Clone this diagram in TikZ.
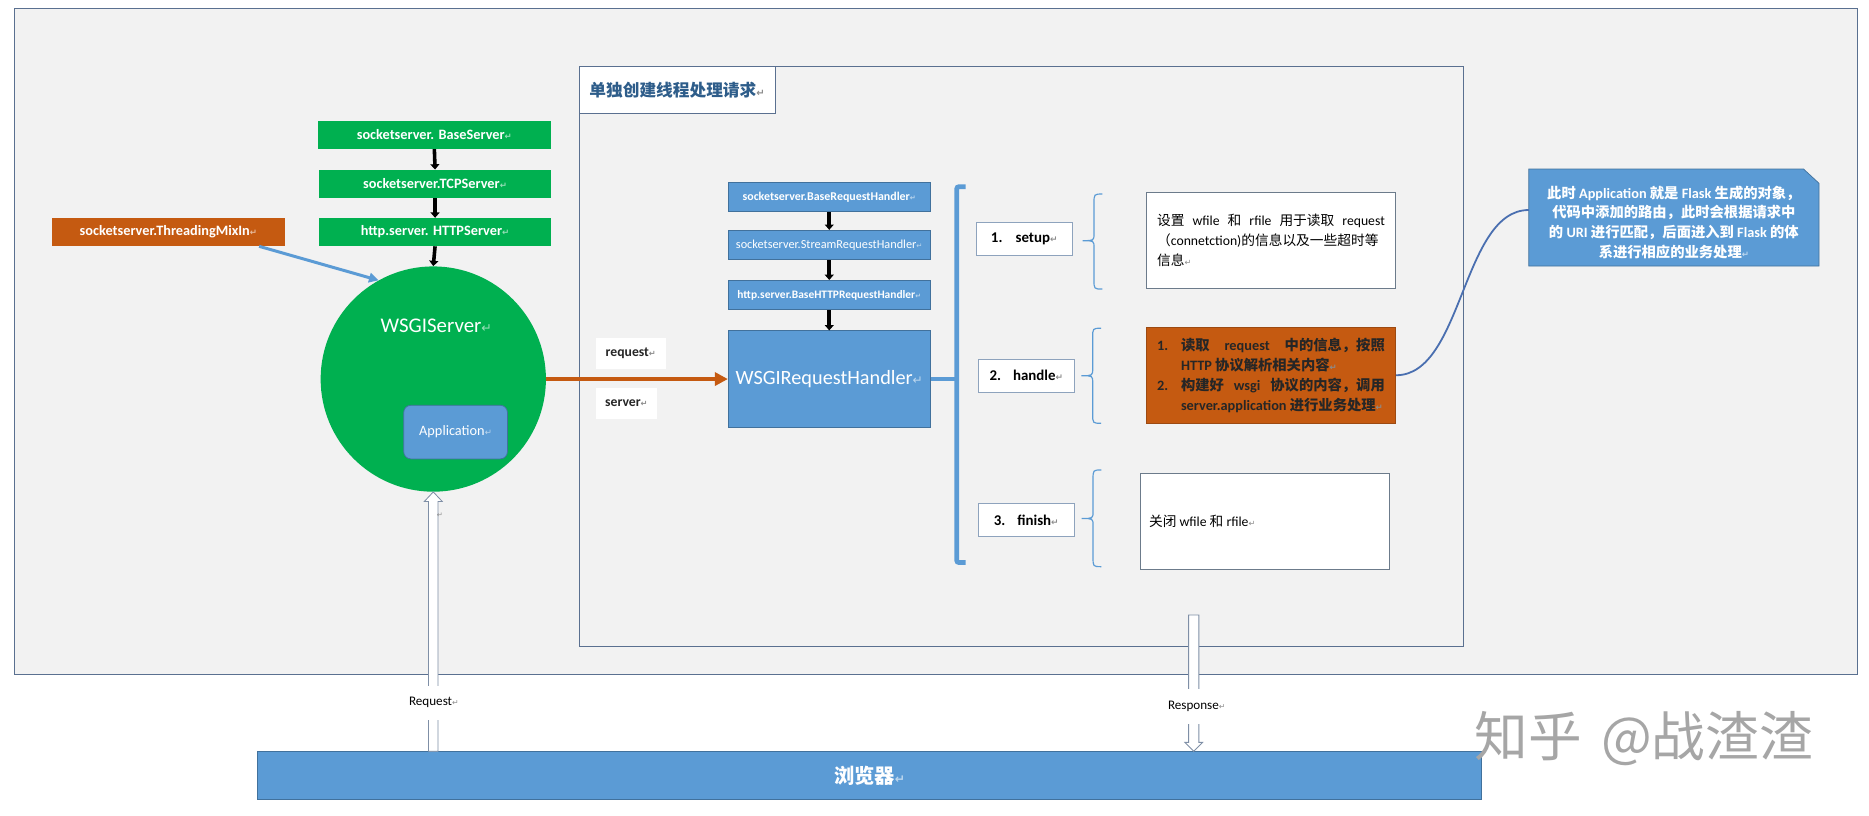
\documentclass[tikz,border=0pt]{standalone}
\usepackage{fontspec}
\usepackage{graphicx}
\setmainfont{Carlito}
\newfontfamily\cjk{Noto Sans CJK SC}
\newfontfamily\dv{DejaVu Sans}
\usetikzlibrary{shapes.geometric,arrows.meta,calc}
\definecolor{bg}{HTML}{F2F2F2}
\definecolor{frame}{HTML}{5A7090}
\definecolor{grn}{HTML}{00B050}
\definecolor{org}{HTML}{C55A11}
\definecolor{blu}{HTML}{5B9BD5}
\definecolor{bluedge}{HTML}{41719C}
\definecolor{ttl}{HTML}{2E5D8A}
\definecolor{stepedge}{HTML}{8EA3BD}
\definecolor{descedge}{HTML}{6C7B8B}
\definecolor{orgedge}{HTML}{9C4A12}
\definecolor{crvc}{HTML}{4A6FB0}
\definecolor{holl}{HTML}{7F8FA6}
\newcommand\zh[1]{{\cjk #1}}
\newcommand\rmk[1][black!45]{{\dv\color{#1}\scalebox{0.6}{↵}}}
\newcommand\cbrace[4]{\draw[brc] (#1+7,#2) .. controls (#1,#2) .. (#1,#2+8) -- (#1,#3-6) .. controls (#1,#3) .. (#1-9.5,#3) .. controls (#1,#3) .. (#1,#3+6) -- (#1,#4-8) .. controls (#1,#4) .. (#1+7,#4);}
\tikzset{
  gbox/.style={fill=grn, text=white, font=\bfseries\fontsize{12}{14}\selectfont, minimum width=195, minimum height=23.5, inner sep=0},
  obox/.style={gbox, fill=org},
  hbox/.style={fill=blu, draw=bluedge, line width=0.6, text=white, minimum width=169.5, inner sep=0},
  blk/.style={black, line width=3, -{Triangle[length=4.5,width=7.5]}},
  sbox/.style={fill=white, draw=stepedge, line width=0.8, font=\bfseries\fontsize{12.5}{14}\selectfont, minimum width=80.6, minimum height=27.7, inner sep=0},
  brc/.style={blu, line width=1},
  dbox/.style={draw=descedge, fill=white, line width=0.8, minimum width=209.2, minimum height=80.6, inner sep=0},
  lbl/.style={fill=white, inner sep=0, font=\bfseries\fontsize{11.5}{13}\selectfont, text=black!85},
  hollow/.style={draw=holl, fill=white, line width=0.7},
  plain/.style={fill=white, inner xsep=2, inner ysep=0, font=\fontsize{11}{13}\selectfont}
}
\begin{document}
\begin{tikzpicture}[x=1pt,y=-1pt]
\useasboundingbox (0,0) rectangle (1568,684);
\fill[white] (0,0) rectangle (1568,684);
% containers
\node[draw=frame, fill=bg, line width=0.8, minimum width=1546, minimum height=559, inner sep=0] (outer) at (785,286.5) {};
\node[draw=frame, fill=bg, line width=0.8, minimum width=741.8, minimum height=486.6, inner sep=0] (inner) at (856.7,298.9) {};
\node[draw=frame, fill=white, line width=0.8, minimum width=164.5, minimum height=39.7, inner sep=0, anchor=north west, text=ttl, font=\cjk\bfseries\fontsize{14}{16}\selectfont] (title) at (inner.north west) {单独创建线程处理请求\rmk};
% server chain
\node[gbox] (bs) at (364.4,113.1) {socketserver. BaseServer\rmk[white!60!grn]};
\node[gbox] (tcp) at (365,154.2) {socketserver.TCPServer\rmk[white!60!grn]};
\node[gbox] (hs) at (365,194.7) {http.server. HTTPServer\rmk[white!60!grn]};
\node[obox] (mix) at (141.3,194.7) {socketserver.ThreadingMixIn\rmk[white!60!org]};
\node[ellipse, fill=grn, minimum width=189, minimum height=189, inner sep=0] (wsgi) at (363.5,318) {};
\node[text=white, inner sep=0, font=\fontsize{17.5}{20}\selectfont] (wsgit) at (366,273) {WSGIServer\rmk[white!60!grn]};
\node[fill=blu, draw=bluedge, line width=0.6, rounded corners=6, minimum width=87, minimum height=45, inner sep=0, text=white, font=\fontsize{12}{14}\selectfont] (app) at (382.2,362.5) {Application\rmk[white!60!blu]};
\draw[blk] (bs.south) -- (tcp.north);
\draw[blk] (tcp.south) -- (hs.north);
\draw[blk] (hs.south) -- (wsgi.north);
\draw[blu, line width=2.5, -{Triangle[length=8,width=8]}] ([xshift=-21.6pt]mix.south east) -- (wsgi.119);
% handler chain
\node[hbox, minimum height=24.6, font=\bfseries\fontsize{10}{12}\selectfont] (brh) at (695.7,165.3) {socketserver.BaseRequestHandler\rmk[white!60!blu]};
\node[hbox, minimum height=24.7, font=\fontsize{10.3}{12}\selectfont] (srh) at (695.7,205.5) {socketserver.StreamRequestHandler\rmk[white!60!blu]};
\node[hbox, minimum height=24.6, font=\bfseries\fontsize{9.6}{11}\selectfont] (bhrh) at (695.7,247.5) {http.server.BaseHTTPRequestHandler\rmk[white!60!blu]};
\node[hbox, minimum height=81, font=\fontsize{17}{20}\selectfont] (wrh) at (695.7,318) {WSGIRequestHandler\rmk[white!60!blu]};
\draw[blk] (brh.south) -- (srh.north);
\draw[blk] (srh.south) -- (bhrh.north);
\draw[blk] (bhrh.south) -- (wrh.north);
\draw[org, line width=4, -{Triangle[length=11,width=11]}] (wsgi.east) -- (wrh.west);
\node[lbl, minimum width=59, minimum height=25.7] (rq) at (529.2,296.5) {request\rmk};
\node[lbl, minimum width=51, minimum height=26] (sv) at (525.5,338.5) {server\rmk};
% bracket
\coordinate (brk) at (802.6,316);
\draw[blu, line width=4, rounded corners=2] (810,156.6) -- (802.6,156.6) -- (802.6,472) -- (810,472);
\draw[blu, line width=4] (wrh.east) -- (wrh.east -| brk);
% steps
\node[sbox] (setup) at (859.3,200.3) {1.\hspace{11pt}setup\rmk};
\node[sbox] (handle) at (861,315.3) {2.\hspace{10pt}handle\rmk};
\node[sbox] (finish) at (861,436.5) {3.\hspace{10pt}finish\rmk};
\cbrace{917.8}{162.8}{201.9}{242.5}
\cbrace{916.7}{275.4}{315.2}{355.1}
\cbrace{917}{394.3}{435}{475.4}
% descriptions
\node[dbox] (sd) at (1066.3,201.6) {\parbox{191pt}{\fontsize{11.5}{16.4}\selectfont
\makebox[191pt][s]{\zh{设置} wfile \zh{和} rfile \zh{用于读取} request}\\
\zh{（}connetction)\zh{的信息以及一些超时等}\\
\zh{信息}\rmk}};
\node[dbox, fill=org, draw=orgedge] (hd) at (1066.3,314.8) {\parbox{191pt}{\bfseries\fontsize{12}{16.9}\selectfont\color{black!85}%
\makebox[20pt][l]{1.}\makebox[171pt][s]{\zh{读取} request \zh{中的信息，按照}}\\
\hspace*{20pt}HTTP \zh{协议解析相关内容}\rmk\\
\makebox[20pt][l]{2.}\makebox[171pt][s]{\zh{构建好} wsgi \zh{协议的内容，调用}}\\
\hspace*{20pt}server.application \zh{进行业务处理}\rmk}};
\node[dbox, minimum width=209] (fd) at (1061,437.3) {\parbox{194pt}{\fontsize{11.5}{14}\selectfont\zh{关闭} wfile \zh{和} rfile\rmk}};
% flask callout
\node[minimum width=243.1, minimum height=81, inner sep=0] (fl) at (1404.3,182.5) {};
\filldraw[fill=blu, draw=bluedge, line width=0.6] (fl.south west) -- (fl.north west) -- ([xshift=-13pt]fl.north east) -- ([yshift=-12pt]fl.north east) -- (fl.south east) -- cycle;
\node[inner sep=0, text=white, align=center, font=\bfseries\fontsize{12}{16.7}\selectfont] (flt) at (1404.3,186.6) {\zh{此时} Application \zh{就是} Flask \zh{生成的对象，}\\
\zh{代码中添加的路由，此时会根据请求中}\\
\zh{的} URI \zh{进行匹配，后面进入到} Flask \zh{的体}\\
\zh{系进行相应的业务处理}\rmk[white!60!blu]};
\draw[crvc, line width=1.5] (hd.east) .. controls +(56,0) and +(-56,0) .. ([yshift=6.3pt]fl.west);
% browser
\node[fill=blu, draw=bluedge, line width=0.6, minimum width=1027, minimum height=40, inner sep=0, text=white, font=\bfseries\fontsize{17}{20}\selectfont] (br) at (729.5,650.6) {\zh{浏览器}\rmk[white!60!blu]};
% request arrow
\coordinate (rqt) at (wsgi.south);
\coordinate (rqb) at (wsgi.south |- br.north);
\draw[hollow] ($(rqb)+(-4,0)$) -- ($(rqt)+(-4,8)$) -- ($(rqt)+(-7.5,8)$) -- (rqt) -- ($(rqt)+(7.5,8)$) -- ($(rqt)+(4,8)$) -- ($(rqb)+(4,0)$) -- cycle;
\node[plain, minimum height=28.5] (rql) at (364,589.5) {Request\rmk};
\node[inner sep=0] (stray) at (369,432) {\rmk};
% response arrow
\coordinate (rst) at (1001.5,516);
\coordinate (rsb) at (rst |- br.north);
\draw[hollow] ($(rst)+(-4.3,0)$) -- ($(rsb)+(-4.3,-7.5)$) -- ($(rsb)+(-7.5,-7.5)$) -- (rsb) -- ($(rsb)+(7.5,-7.5)$) -- ($(rsb)+(4.3,-7.5)$) -- ($(rst)+(4.3,0)$) -- cycle;
\node[plain, minimum height=29.5] (rsl) at (1004,592.9) {Response\rmk};
% watermark
\node[anchor=west, inner sep=0, text=black!35, font=\cjk\fontsize{45}{48}\selectfont] (wm) at (1237,619.5) {知乎\hspace{16pt}@战渣渣};
\end{tikzpicture}
\end{document}
